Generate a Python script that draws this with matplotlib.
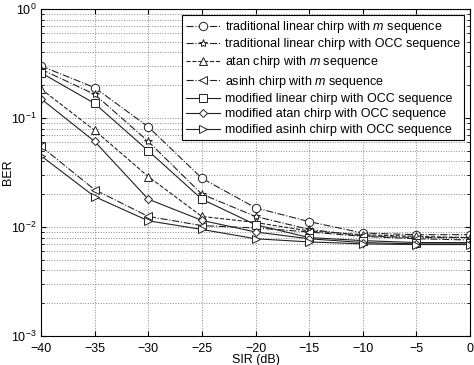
import numpy as np
import matplotlib
matplotlib.use("Agg")
import matplotlib.pyplot as plt
from matplotlib.ticker import LogLocator, NullFormatter

plt.rcParams['font.family'] = ['Liberation Sans', 'DejaVu Sans']
plt.rcParams['mathtext.fontset'] = 'custom'
plt.rcParams['mathtext.it'] = 'Liberation Sans:italic'
plt.rcParams['mathtext.rm'] = 'Liberation Sans'

sir = [-40, -35, -30, -25, -20, -15, -10, -5, 0]

trad_linear_m = [0.30, 0.19, 0.083, 0.028, 0.015, 0.0112, 0.0088, 0.0085, 0.0085]
trad_linear_occ = [0.28, 0.165, 0.061, 0.020, 0.0125, 0.0095, 0.0083, 0.0080, 0.0080]
atan_m = [0.185, 0.077, 0.029, 0.0125, 0.0110, 0.0092, 0.0085, 0.0082, 0.0080]
asinh_m = [0.055, 0.022, 0.0125, 0.0103, 0.0098, 0.0090, 0.0082, 0.0078, 0.0076]
mod_linear_occ = [0.26, 0.136, 0.050, 0.018, 0.0105, 0.0080, 0.0075, 0.0072, 0.0072]
mod_atan_occ = [0.15, 0.061, 0.018, 0.0115, 0.0090, 0.0078, 0.0072, 0.0070, 0.0070]
mod_asinh_occ = [0.045, 0.019, 0.0114, 0.0095, 0.0078, 0.0073, 0.0070, 0.0069, 0.0069]

labels = [
    "traditional linear chirp with $m$ sequence",
    "traditional linear chirp with OCC sequence",
    "atan chirp with $m$ sequence",
    "asinh chirp with $m$ sequence",
    "modified linear chirp with OCC sequence",
    "modified atan chirp with OCC sequence",
    "modified asinh chirp with OCC sequence",
]

fig = plt.figure(figsize=(4.74, 3.65), dpi=100)
ax = fig.add_axes([41 / 474, 29 / 365, 429 / 474, 327 / 365])

style = dict(color='#222222', lw=0.8, markersize=6, markerfacecolor='white', markeredgewidth=0.7)
ax.semilogy(sir, trad_linear_m, '-.', marker='o', label=labels[0], **style)
ax.semilogy(sir, trad_linear_occ, '-.', marker='*', label=labels[1], **style)
ax.semilogy(sir, atan_m, '--', marker='^', label=labels[2], **style)
ax.semilogy(sir, asinh_m, '-.', marker='<', label=labels[3], **style)
ax.semilogy(sir, mod_linear_occ, '-', marker='s', label=labels[4], **{**style, 'markersize': 5.5})
ax.semilogy(sir, mod_atan_occ, '-', marker='D', label=labels[5], **{**style, 'markersize': 4.5})
ax.semilogy(sir, mod_asinh_occ, '-', marker='>', label=labels[6], **style)

ax.set_xlim(-40, 0)
ax.set_ylim(1e-3, 1)
ax.set_xticks(np.arange(-40, 1, 5))
ax.yaxis.set_major_locator(LogLocator(base=10, numticks=10))
ax.yaxis.set_minor_locator(LogLocator(base=10, subs=np.arange(2, 10), numticks=10))
ax.yaxis.set_minor_formatter(NullFormatter())
ax.tick_params(direction='in', which='both', top=True, right=True, labelsize=9)
ax.tick_params(axis='x', pad=5)
ax.tick_params(axis='y', pad=3)
ax.grid(True, which='both', linestyle=':', color='#888888', linewidth=0.7)

ax.set_xlabel("SIR (dB)", fontsize=9)
ax.xaxis.set_label_coords(0.5, -0.056)
ax.set_ylabel("BER", fontsize=9)
ax.yaxis.set_label_coords(-0.062, 0.5)

leg = ax.legend(loc='upper right', fontsize=9, fancybox=False, framealpha=1,
                edgecolor='black', handlelength=2.7, handletextpad=0.4,
                labelspacing=0.28, borderpad=0.3, borderaxespad=0.5)
leg.get_frame().set_linewidth(0.8)

fig.savefig("out.png", dpi=100)
